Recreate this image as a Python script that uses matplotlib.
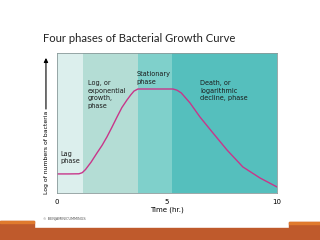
import matplotlib
matplotlib.use('Agg')
import matplotlib.pyplot as plt
from matplotlib.patches import Rectangle

# phase boundaries (hours)
phase_edges = [0, 1.18, 3.68, 5.23, 10]
phase_colors = ['#dcefed', '#b4ddd5', '#7fd0cb', '#55bfbd']
phase_labels = ['Lag\nphase', 'Log, or\nexponential\ngrowth,\nphase', 'Stationary\nphase',
                'Death, or\nlogarithmic\ndecline, phase']
label_x = [0.14, 1.4, 3.6, 6.5]
label_y = [0.30, 0.805, 0.87, 0.805]

# growth curve
t = [0, 0.5, 1.0, 1.15, 1.3, 1.55, 1.82, 2.05, 2.27, 2.5, 2.73, 2.95, 3.18, 3.35, 3.5, 3.68,
     4.5, 5.27, 5.45, 5.65, 6.05, 6.5, 7.09, 7.73, 8.45, 9.23, 10.0]
logn = [0.136, 0.136, 0.137, 0.145, 0.168, 0.22, 0.286, 0.34, 0.40, 0.47, 0.543, 0.61, 0.664, 0.70, 0.728, 0.743,
        0.743, 0.743, 0.735, 0.715, 0.643, 0.543, 0.429, 0.307, 0.186, 0.107, 0.043]

fig = plt.figure(figsize=(3.2, 2.4), dpi=100)
fig.patch.set_facecolor('white')

# orange footer band of the slide
fig.patches.append(Rectangle((0, 0), 1, 0.05, transform=fig.transFigure, color='#bf5a2c', zorder=0))
fig.patches.append(Rectangle((0, 0), 0.106, 0.079, transform=fig.transFigure, color='#bf5a2c', zorder=0))
fig.patches.append(Rectangle((0, 0.071), 0.106, 0.008, transform=fig.transFigure, color='#e07a2e', zorder=0))
fig.patches.append(Rectangle((0.903, 0), 0.097, 0.075, transform=fig.transFigure, color='#bf5a2c', zorder=0))
fig.patches.append(Rectangle((0.903, 0.067), 0.097, 0.008, transform=fig.transFigure, color='#e07a2e', zorder=0))

fig.text(0.134, 0.84, 'Four phases of Bacterial Growth Curve', fontsize=8.1,
         family='Lato', color='#222222', va='center', ha='left')

ax = fig.add_axes([0.178, 0.196, 0.6875, 0.583])
for i in range(4):
    ax.axvspan(phase_edges[i], phase_edges[i + 1], color=phase_colors[i], lw=0)
    ax.text(label_x[i], label_y[i], phase_labels[i], fontsize=4.7, color='#1a1a1a',
            va='top', ha='left', linespacing=1.3)
ax.plot(t, logn, color='#c8368a', lw=1.0)
ax.set_xlim(0, 10)
ax.set_ylim(0, 1)
ax.set_xticks([])
ax.set_yticks([])
for s in ax.spines.values():
    s.set_color('#8a9a9a')
    s.set_linewidth(0.6)

for v in [0, 5, 10]:
    ax.text(v, -0.04, str(v), fontsize=5, ha='center', va='top')
ax.text(5, -0.1, 'Time (hr.)', fontsize=5, ha='center', va='top')

# y axis label with arrow
fig.text(0.145, 0.367, 'Log of numbers of bacteria', rotation=90, fontsize=4.4,
         ha='center', va='center')
ax.annotate('', xy=(-0.05, 0.985), xytext=(-0.05, 0.58), xycoords='axes fraction',
            arrowprops=dict(arrowstyle='-|>', color='black', lw=0.8, mutation_scale=6))

fig.text(0.134, 0.087, '\u00a9 BENJAMIN/CUMMINGS', fontsize=2.5, color='#555555', va='center')

fig.savefig('out.png', dpi=100)
